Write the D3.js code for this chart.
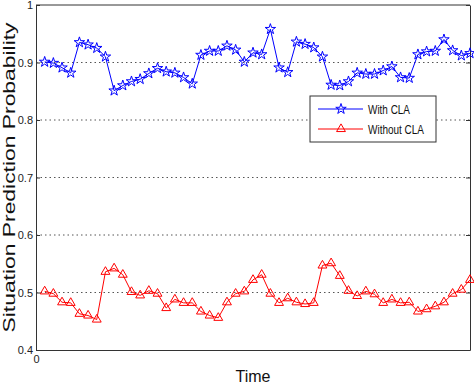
<!DOCTYPE html>
<html>
<head>
<meta charset="utf-8">
<script src="https://cdn.jsdelivr.net/npm/d3@7"></script>
<style>
  body { margin: 0; background: #fff; }
  text { font-family: 'Liberation Sans', Arial, sans-serif; }
</style>
</head>
<body>
<div id="plot"></div>
<script>
(() => {
'use strict';

// values, one per time step 1..50
const withCLA = [
  0.901, 0.899, 0.891, 0.882, 0.935, 0.931, 0.925, 0.910, 0.851, 0.860,
  0.867, 0.871, 0.881, 0.890, 0.884, 0.882, 0.874, 0.863, 0.913, 0.920,
  0.920, 0.929, 0.922, 0.901, 0.917, 0.914, 0.958, 0.891, 0.883, 0.936,
  0.932, 0.926, 0.910, 0.861, 0.860, 0.867, 0.882, 0.880, 0.880, 0.886,
  0.893, 0.874, 0.873, 0.914, 0.919, 0.920, 0.940, 0.921, 0.912, 0.916
];
const withoutCLA = [
  0.502, 0.498, 0.483, 0.482, 0.463, 0.460, 0.453, 0.536, 0.542, 0.531,
  0.501, 0.495, 0.503, 0.498, 0.473, 0.488, 0.482, 0.482, 0.467, 0.460,
  0.456, 0.483, 0.498, 0.502, 0.522, 0.531, 0.498, 0.482, 0.490, 0.483,
  0.480, 0.482, 0.547, 0.551, 0.529, 0.503, 0.494, 0.502, 0.497, 0.482,
  0.488, 0.482, 0.483, 0.467, 0.471, 0.476, 0.483, 0.498, 0.505, 0.522
];
const yTicks = [0.4, 0.5, 0.6, 0.7, 0.8, 0.9, 1];
const xTicks = [0];
const seriesNames = ['With CLA', 'Without CLA'];

const WIDTH = 474;
const HEIGHT = 387;
const LEFT = 36, RIGHT = 470, TOP = 5, BOTTOM = 350;
const AXIS_COLOR = '#333';

const SVG = d3.select('#plot')
  .append('svg')
  .attr('width', WIDTH)
  .attr('height', HEIGHT);

const xScale = d3.scaleLinear().domain([0, 50]).range([LEFT, RIGHT]);
const yScale = d3.scaleLinear().domain([0.4, 1]).range([BOTTOM, TOP]);

// dotted grid
SVG.append('g')
  .selectAll('line')
  .data(yTicks.filter((d) => d > 0.4 && d < 1))
  .enter()
  .append('line')
    .attr('x1', LEFT)
    .attr('x2', RIGHT)
    .attr('y1', (d) => yScale(d))
    .attr('y2', (d) => yScale(d))
    .attr('stroke', '#555')
    .attr('stroke-width', 1)
    .attr('stroke-dasharray', '1.5,3');

const yAxis = d3.axisLeft(yScale).tickValues(yTicks).tickFormat((d) => d === 1 ? '1' : d3.format('.1f')(d))
  .tickSizeInner(-4).tickSizeOuter(0).tickPadding(3);
const yAxisR = d3.axisRight(yScale).tickValues(yTicks).tickFormat('')
  .tickSizeInner(-4).tickSizeOuter(0);
const xAxis = d3.axisBottom(xScale).tickValues(xTicks).tickFormat(d3.format('d'))
  .tickSizeInner(0).tickSizeOuter(0).tickPadding(5);

const styleAxis = (g) => {
  g.select('.domain').attr('stroke', AXIS_COLOR);
  g.selectAll('.tick line').attr('stroke', AXIS_COLOR);
  g.selectAll('.tick text').attr('fill', '#222').style('font-size', '11px');
};

SVG.append('g').attr('transform', `translate(${LEFT},0)`).call(yAxis).call(styleAxis);
SVG.append('g').attr('transform', `translate(${RIGHT},0)`).call(yAxisR).call(styleAxis);
SVG.append('g').attr('transform', `translate(0,${BOTTOM})`).call(xAxis).call(styleAxis);
SVG.append('line')
  .attr('x1', LEFT).attr('x2', RIGHT).attr('y1', TOP).attr('y2', TOP)
  .attr('stroke', AXIS_COLOR);

const star = d3.symbol().type(d3.symbolStar).size(34);
const tri = d3.symbol().type(d3.symbolTriangle).size(34);

const series = [
  { name: seriesNames[0], values: withCLA, color: '#0000ff', sym: star, len: 42 },
  { name: seriesNames[1], values: withoutCLA, color: '#ff0000', sym: tri, len: 56 }
];

const line = d3.line()
  .x((d, i) => xScale(i + 1))
  .y((d) => yScale(d));

series.forEach((s) => {
  SVG.append('path')
    .datum(s.values)
    .attr('d', line)
    .attr('fill', 'none')
    .attr('stroke', s.color)
    .attr('stroke-width', 1);

  SVG.append('g')
    .selectAll('path')
    .data(s.values)
    .enter()
    .append('path')
      .attr('d', s.sym)
      .attr('transform', (d, i) => `translate(${xScale(i + 1)},${yScale(d)})`)
      .attr('fill', 'none')
      .attr('stroke', s.color)
      .attr('stroke-width', 1);
});

// legend
const legend = SVG.append('g').attr('transform', 'translate(310,96)');
legend.append('rect')
  .attr('width', 126)
  .attr('height', 46)
  .attr('fill', '#fff')
  .attr('stroke', AXIS_COLOR);

const item = legend.selectAll('.legend')
  .data(series)
  .enter()
  .append('g')
    .attr('class', 'legend')
    .attr('transform', (d, i) => `translate(0, ${13 + i * 20})`);

item.append('line')
  .attr('x1', 8).attr('x2', 53)
  .attr('stroke', (d) => d.color);
item.append('path')
  .attr('d', (d) => d.sym())
  .attr('transform', 'translate(31,0)')
  .attr('fill', 'none')
  .attr('stroke', (d) => d.color);
item.append('text')
  .attr('x', 58)
  .attr('y', 5)
  .attr('textLength', (d) => d.len)
  .attr('lengthAdjust', 'spacingAndGlyphs')
  .style('font-size', '13px')
  .attr('fill', '#111')
  .text((d) => d.name);

// axis labels
SVG.append('text')
  .attr('x', 253)
  .attr('y', 382)
  .attr('text-anchor', 'middle')
  .attr('textLength', 35)
  .attr('lengthAdjust', 'spacingAndGlyphs')
  .style('font-size', '17px')
  .attr('fill', '#111')
  .text('Time');

SVG.append('text')
  .attr('transform', `translate(15, ${(TOP + BOTTOM) / 2}) rotate(-90)`)
  .attr('text-anchor', 'middle')
  .attr('textLength', 310)
  .attr('lengthAdjust', 'spacingAndGlyphs')
  .style('font-size', '17px')
  .attr('fill', '#111')
  .text('Situation Prediction Probability');

})();
</script>
</body>
</html>
